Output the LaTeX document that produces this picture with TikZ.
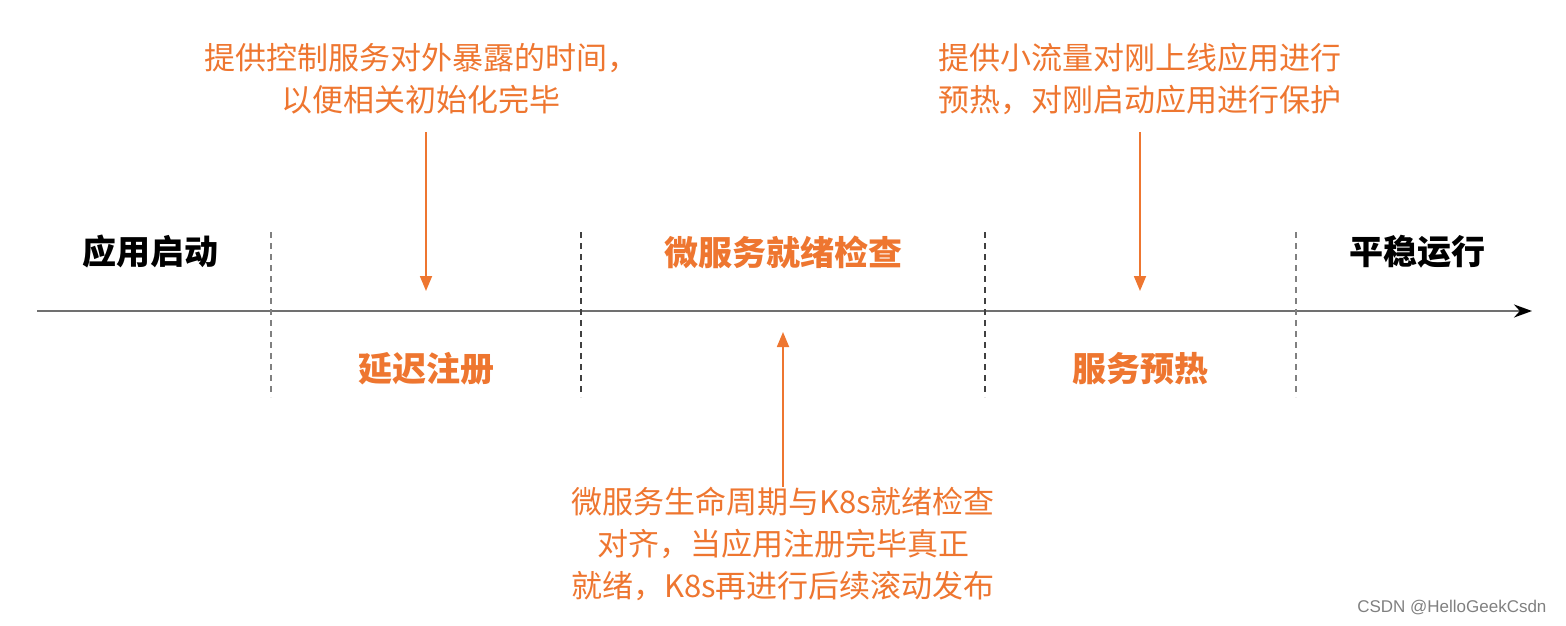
\documentclass[tikz,border=0pt]{standalone}
\usepackage{fontspec}
\setmainfont{Noto Sans CJK SC}
\newfontfamily\wmfont{Liberation Sans}
\usetikzlibrary{arrows.meta}
\definecolor{warnorange}{HTML}{EE7630}
\definecolor{axisgray}{HTML}{707070}

\begin{document}
\begin{tikzpicture}[x=1pt, y=-1pt,
    stage/.style={font=\fontsize{34}{40}\selectfont\bfseries, inner sep=0pt},
    phase/.style={stage, text=warnorange},
    note/.style={font=\fontsize{31}{42}\selectfont, text=warnorange, align=center, inner sep=0pt},
    divider/.style={dash pattern=on 6pt off 5pt, line width=1.6pt},
    callout/.style={draw=warnorange, line width=1.8pt, -{Triangle[length=15pt,width=12pt]}}]
    \useasboundingbox (0,0) rectangle (1566,626);

    \coordinate (axisstart) at (37, 311);
    \coordinate (axisend) at (1532, 311);
    \draw[axisgray, line width=2.4pt, -{Stealth[length=18pt,width=13pt,color=black]}] (axisstart) -- (axisend);

    \draw[divider, gray] (271, 232) -- (271, 397);
    \draw[divider, black!75] (581, 232) -- (581, 397);
    \draw[divider, black!75] (985, 232) -- (985, 397);
    \draw[divider, gray] (1296, 232) -- (1296, 397);

    \node[stage] (start) at (150, 252) {应用启动};
    \node[stage] (steady) at (1417, 252) {平稳运行};
    \node[phase] (check) at (783, 252) {微服务就绪检查};
    \node[phase] (delay) at (426, 369) {延迟注册};
    \node[phase] (warm) at (1140, 369) {服务预热};

    \node[note] (notedelay) at (421, 79) {提供控制服务对外暴露的时间，\\以便相关初始化完毕};
    \node[note] (notewarm) at (1140, 79) {提供小流量对刚上线应用进行\\预热，对刚启动应用进行保护};
    \node[note] (notecheck) at (783, 544) {微服务生命周期与K8s就绪检查\\对齐，当应用注册完毕真正\\就绪，K8s再进行后续滚动发布};

    \coordinate (delaytip) at (426, 291);
    \coordinate (warmtip) at (1140, 291);
    \coordinate (checktip) at (783, 332);
    \draw[callout] (delaytip |- 0, 132) -- (delaytip);
    \draw[callout] (warmtip |- 0, 132) -- (warmtip);
    \draw[callout] (notecheck.north -| checktip) -- (checktip);

    \node[font=\wmfont\fontsize{17}{20}\selectfont, text=gray, anchor=east] (mark) at (1550, 608) {CSDN @HelloGeekCsdn};
\end{tikzpicture}
\end{document}
